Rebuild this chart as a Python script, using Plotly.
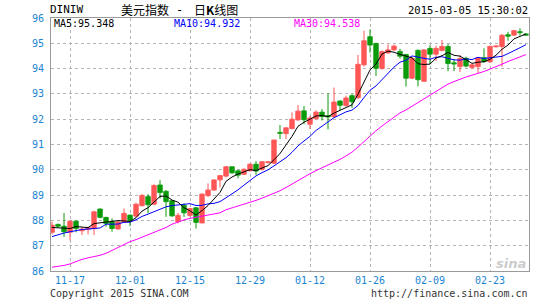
import plotly.graph_objects as go
import pandas as pd

# ---- data ----
opens = [87.53, 87.84, 87.77, 87.53, 87.97, 87.59, 87.64, 87.68, 88.45, 88.12,
         87.95, 87.66, 87.92, 88.21, 88.17, 88.58, 88.94, 88.64, 89.40, 89.15,
         88.78, 87.95, 88.60, 88.20, 88.50, 87.90, 88.98, 89.20, 89.60, 89.75,
         90.12, 89.96, 89.82, 89.96, 90.22, 90.02, 90.28, 90.26, 91.48, 91.43,
         91.63, 91.97, 92.33, 91.80, 92.02, 92.28, 92.14, 92.10, 92.72, 92.54,
         92.93, 92.85, 94.15, 95.26, 95.00, 94.01, 94.62, 94.74, 94.68, 94.56,
         93.62, 94.72, 93.50, 94.80, 94.57, 94.72, 94.87, 94.23, 94.08, 94.41,
         94.05, 94.08, 94.43, 94.27, 94.86, 94.87, 95.34, 95.32, 95.46, 95.37]
highs = [87.95, 87.88, 88.29, 87.99, 87.99, 87.74, 87.74, 88.38, 88.47, 88.14,
         88.08, 87.97, 88.47, 88.23, 88.70, 89.04, 89.04, 89.43, 89.59, 89.20,
         88.80, 88.30, 88.67, 88.50, 88.52, 89.07, 89.46, 89.62, 89.80, 90.15,
         90.14, 89.99, 90.06, 90.26, 90.35, 90.33, 90.35, 91.18, 91.77, 91.69,
         92.27, 92.56, 92.52, 92.13, 92.35, 92.40, 93.02, 93.25, 92.74, 92.93,
         92.99, 94.54, 95.50, 95.55, 95.00, 94.72, 94.96, 94.95, 94.78, 94.58,
         94.45, 94.76, 94.77, 94.93, 94.90, 95.13, 94.97, 94.38, 94.54, 94.47,
         94.20, 94.46, 94.80, 94.90, 94.92, 95.36, 95.45, 95.53, 95.59, 95.40]
lows = [87.45, 87.71, 87.35, 87.21, 87.53, 87.42, 87.45, 87.42, 88.08, 87.75,
        87.55, 87.64, 87.90, 87.77, 88.12, 88.55, 88.28, 88.60, 88.87, 88.14,
        88.14, 87.88, 88.14, 88.14, 87.68, 87.88, 88.92, 89.17, 89.30, 89.70,
        89.84, 89.66, 89.79, 89.93, 89.80, 89.97, 90.26, 90.23, 91.22, 91.22,
        91.60, 91.94, 91.80, 91.62, 91.99, 91.95, 91.60, 92.06, 92.36, 92.50,
        92.44, 92.80, 94.08, 94.63, 93.71, 93.95, 94.58, 94.70, 94.40, 93.29,
        93.58, 93.30, 93.47, 94.17, 94.30, 94.68, 93.90, 93.90, 93.86, 94.05,
        93.98, 93.82, 94.22, 94.22, 94.84, 94.08, 95.10, 95.30, 95.30, 95.30]
closes = [87.81, 87.77, 87.55, 87.97, 87.68, 87.66, 87.72, 88.34, 88.12, 87.88,
          87.68, 87.94, 88.28, 87.99, 88.64, 88.99, 88.62, 89.38, 89.10, 88.74,
          88.18, 88.20, 88.30, 88.47, 87.92, 89.04, 89.20, 89.60, 89.77, 90.12,
          89.88, 89.79, 90.02, 90.22, 89.95, 90.32, 90.32, 91.18, 91.44, 91.66,
          92.00, 92.32, 91.98, 92.05, 92.28, 92.10, 92.09, 92.68, 92.55, 92.84,
          92.69, 94.17, 95.10, 94.93, 94.01, 94.67, 94.74, 94.89, 94.49, 93.62,
          94.40, 93.56, 94.74, 94.57, 94.80, 94.88, 94.20, 94.18, 94.40, 94.10,
          94.15, 94.43, 94.28, 94.88, 94.90, 95.32, 95.28, 95.50, 95.42, 95.32]

# moving-average values before a full window is visible
ma5_head = [87.72, 87.70, 87.68, 87.68]
ma10_head = [87.36, 87.44, 87.50, 87.55, 87.60, 87.64, 87.66, 87.68, 87.70]
ma30_head = [86.15, 86.18, 86.22, 86.28, 86.38, 86.46, 86.52, 86.57, 86.62, 86.70,
             86.82, 86.92, 87.05, 87.16, 87.24, 87.33, 87.42, 87.52, 87.60, 87.72,
             87.85, 87.95, 88.02, 88.08, 88.12, 88.16, 88.20, 88.25, 88.30]

tick_pos = [3, 13, 23, 33, 43, 53, 63, 73]
tick_labels = ["11-17", "12-01", "12-15", "12-29", "01-12", "01-26", "02-09", "02-23"]
y_ticks = [86, 87, 88, 89, 90, 91, 92, 93, 94, 95, 96]

ma5_label = "MA5:95.348"
ma10_label = "MA10:94.932"
ma30_label = "MA30:94.538"

# ---- derived ----
s = pd.Series(closes)
def ma(head, n):
    roll = s.rolling(n).mean().tolist()
    return head + roll[len(head):]
ma5 = ma(ma5_head, 5)
ma10 = ma(ma10_head, 10)
ma30 = ma(ma30_head, 30)

xs = list(range(len(closes)))
UP = "#ff5656"
DN = "#0a9a0a"
BLUE_TXT = "#1a84d2"
MONO = "DejaVu Sans Mono"
CJK = "Noto Sans CJK SC"

fig = go.Figure()

# wicks
for col, cond in ((UP, True), (DN, False)):
    wx, wy = [], []
    for i in xs:
        if (closes[i] >= opens[i]) == cond:
            wx += [i, i, None]
            wy += [lows[i], highs[i], None]
    fig.add_trace(go.Scatter(x=wx, y=wy, mode="lines", line=dict(color=col, width=1),
                             hoverinfo="skip", showlegend=False))

# bodies
for col, cond in ((UP, True), (DN, False)):
    bx, by, bb = [], [], []
    for i in xs:
        if (closes[i] >= opens[i]) == cond:
            bx.append(i)
            bb.append(min(opens[i], closes[i]))
            by.append(abs(closes[i] - opens[i]))
    fig.add_trace(go.Bar(x=bx, y=by, base=bb, width=0.76,
                         marker=dict(color=col, line=dict(color=col, width=0.8)),
                         hoverinfo="skip", showlegend=False))

# moving averages
fig.add_trace(go.Scatter(x=xs, y=ma30, mode="lines", line=dict(color="#ff00ff", width=1), showlegend=False))
fig.add_trace(go.Scatter(x=xs, y=ma10, mode="lines", line=dict(color="#0000ff", width=1), showlegend=False))
fig.add_trace(go.Scatter(x=xs, y=ma5, mode="lines", line=dict(color="#000000", width=1), showlegend=False))

L, R, T, B = 51, 529, 18, 271
W, H = 545, 300
def px(xp):
    return (xp - L) / (R - L)
def py(yp):
    return (B - yp) / (B - T)

def note(text, x, y, xanchor, color="#000000", size=10, family=MONO):
    fig.add_annotation(text=text, x=px(x), y=py(y), xref="paper", yref="paper",
                       xanchor=xanchor, yanchor="middle", showarrow=False,
                       font=dict(family=family, size=size, color=color))

note("DINIW", 48, 10, "left", size=11)
note("美元指数", 119, 10, "left", size=12, family=CJK)
note("-", 179, 10, "center", size=12, family=MONO)
note("日<b>K</b>线图", 192, 10, "left", size=12, family=CJK)
note("2015-03-05 15:30:02", 530, 10, "right", size=10.5)
note(ma5_label, 52, 24, "left", "#000000")
note(ma10_label, 172, 24, "left", "#0000ff")
note(ma30_label, 292, 24, "left", "#ff00ff")
note("Copyright 2015 SINA.COM", 48, 293, "left", "#333333")
note("http://finance.sina.com.cn", 530, 293, "right", "#333333")
fig.add_annotation(text="<b><i>sina</i></b>", x=px(528), y=py(263), xref="paper", yref="paper",
                   xanchor="right", yanchor="middle", showarrow=False,
                   font=dict(family="DejaVu Sans", size=13, color="#cccccc"))

fig.update_layout(
    width=W, height=H, margin=dict(l=L, r=W - R, t=T, b=H - B),
    paper_bgcolor="white", plot_bgcolor="white", barmode="overlay",
    showlegend=False, hovermode=False,
)
fig.update_xaxes(range=[-0.17, 79.5], tickvals=tick_pos, ticktext=tick_labels,
                 showgrid=True, gridcolor="#b4b4b4", griddash="dot", gridwidth=1,
                 showline=True, mirror=True, linecolor="#9a9a9a", linewidth=1,
                 ticks="", zeroline=False,
                 tickfont=dict(family=MONO, size=10, color=BLUE_TXT))
fig.update_yaxes(range=[86, 96], tickvals=y_ticks, ticktext=[str(v) for v in y_ticks],
                 showgrid=True, gridcolor="#b4b4b4", griddash="dot", gridwidth=1,
                 showline=True, mirror=True, linecolor="#9a9a9a", linewidth=1,
                 ticks="", zeroline=False, ticklabelstandoff=4,
                 tickfont=dict(family=MONO, size=10, color=BLUE_TXT))

fig.write_html("out.html")
